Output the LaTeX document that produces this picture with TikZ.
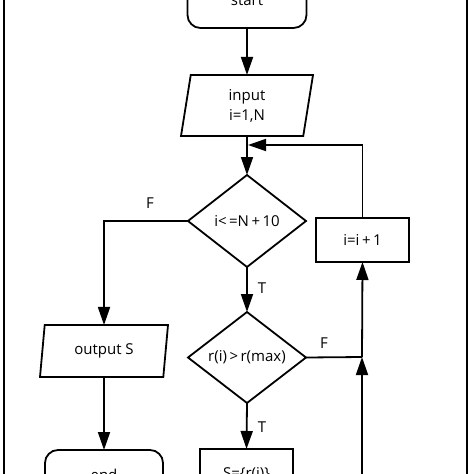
\documentclass[tikz,border=0pt]{standalone}
\usepackage{fontspec}
\setmainfont{Open Sans}
\usetikzlibrary{arrows.meta,shapes.geometric}
\tikzset{
  base/.style={draw, line width=1.8pt, inner sep=0pt, outer sep=0pt, align=center, font=\fontsize{15}{20}\selectfont},
  term/.style={base, rounded corners=13pt, minimum width=119pt, minimum height=50pt},
  io/.style={base, trapezium, trapezium stretches body, trapezium left angle=#1, trapezium right angle=180-#1},
  procbox/.style={base, rectangle},
  decide/.style={base, diamond, minimum width=118pt, minimum height=92pt},
  conn/.style={line width=1.8pt, -{Triangle[length=18pt,width=12pt]}},
  plain/.style={line width=1.8pt},
  lbl/.style={font=\fontsize{15}{18}\selectfont, inner sep=0pt}
}
\begin{document}
\begin{tikzpicture}[x=1pt,y=-1pt]
\useasboundingbox (0,0) rectangle (474,474);
\clip (0,0) rectangle (474,474);
\fill[white] (0,0) rectangle (474,474);
\draw[line width=1.5pt] (4,-40) rectangle (467,520);

\node[term, minimum height=54pt] (start) at (247,1) {start};
\node[io=73.5, minimum width=132pt, minimum height=61pt] (inp) at (247,105.5) {input\\i=1,N};
\node[decide] (d1) at (247,221) {i<\,=N\,+\,10};
\node[decide, minimum height=91pt] (d2) at (247,357.5) {r(i)\,>\,r(max)};
\node[procbox, minimum width=93pt, minimum height=44pt] (inc) at (362.5,240) {i=i\,+\,1};
\node[io=72, minimum width=128pt, minimum height=52pt] (out) at (104,351) {output S};
\node[term, minimum width=118pt] (end) at (104,475) {end};
\node[procbox, minimum width=93pt, minimum height=50pt] (S) at (246.5,474) {S=\{r(i)\}};

\coordinate (m1) at (248,145);
\coordinate (j) at (362,357);

\draw[conn] (start.south) -- (inp.north);
\draw[conn] (inp.south) -- (d1.north);
\draw[conn] (inc.north) |- (m1);
\draw[conn] (d1.west) -| (out.north);
\draw[conn] (d1.south) -- (d2.north);
\draw[plain] (d2.east) -- (j);
\draw[conn] (j) -- (inc.south);
\draw[conn] (S.south) -- ++(0,26) -| (j);
\draw[conn] (out.south) -- (end.north);
\draw[conn] (d2.south) -- (S.north);

\node[lbl] (f1) at (150,203) {F};
\node[lbl] (t1) at (262,288) {T};
\node[lbl] (f2) at (324,343) {F};
\node[lbl] (t2) at (262,427) {T};
\end{tikzpicture}
\end{document}
